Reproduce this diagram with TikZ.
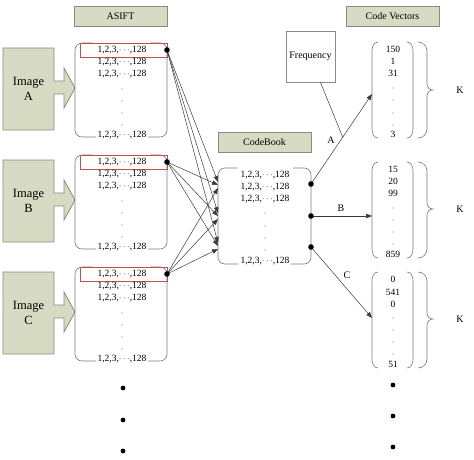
\documentclass[tikz,border=0pt]{standalone}
\usepackage{fontspec}
\setmainfont{Liberation Serif}
\usetikzlibrary{arrows.meta,calc}
\definecolor{boxfill}{HTML}{D8DBC3}
\definecolor{boxline}{HTML}{8A8B7E}
\definecolor{brk}{HTML}{7A7A7A}
\definecolor{redline}{HTML}{C0504D}
\definecolor{conncol}{HTML}{3A3A3A}
\begin{document}
\begin{tikzpicture}[x=1pt,y=-1pt,
  lbl/.style={draw=boxline, fill=boxfill, line width=0.8pt, minimum width=93pt, minimum height=20pt, inner sep=0pt, font=\fontsize{10}{12}\selectfont},
  imgshape/.style={draw=boxline, fill=boxfill, line width=0.8pt},
  imgtext/.style={align=center, inner sep=0pt, font=\fontsize{12.5}{15}\selectfont},
  rowtxt/.style={inner sep=0pt, font=\fontsize{9.5}{11}\selectfont},
  brack/.style={draw=brk, line width=0.6pt},
  conn/.style={draw=conncol, line width=0.5pt, -{Triangle[length=6pt,width=4.5pt]}},
  plain/.style={draw=conncol, line width=0.5pt},
  edgelbl/.style={inner sep=0pt, font=\fontsize{10}{12}\selectfont},
  tinydot/.style={fill=brk},
  redbox/.style={draw=redline, line width=0.9pt},
]
\useasboundingbox (0,0) rectangle (474,460);

% header labels
\node[lbl] (asift) at (120.5,16) {ASIFT};
\node[lbl] (codebook) at (264.5,142) {CodeBook};
\node[lbl] (codevec) at (392.5,16) {Code Vectors};

% image blocks and ASIFT columns
\foreach \L/\dy in {A/0,B/112,C/224}{
  \draw[imgshape] (3,48+\dy) -- (54,48+\dy) -- (54,81+\dy) -- (64,81+\dy) -- (64,68+\dy)
     -- (75,88+\dy) -- (64,108+\dy) -- (64,94+\dy) -- (54,94+\dy) -- (54,130+\dy) -- (3,130+\dy) -- cycle;
  \node[imgtext] (img\L) at (28.5,89+\dy) {Image\\\L};
  % brackets
  \draw[brack, rounded corners=7pt] (93,43+\dy) -- (75,43+\dy) -- (75,137+\dy) -- (96,137+\dy);
  \draw[brack, rounded corners=7pt] (150,43+\dy) -- (167,43+\dy) -- (167,137+\dy) -- (148,137+\dy);
  % rows
  \draw[redbox] (80,43+\dy) rectangle (167,57+\dy);
  \node[rowtxt] (r1\L) at (122,50+\dy) {1,2,3,$\cdots$,128};
  \node[rowtxt] (r2\L) at (122,62+\dy) {1,2,3,$\cdots$,128};
  \node[rowtxt] (r3\L) at (122,74+\dy) {1,2,3,$\cdots$,128};
  \foreach \yy in {89,101,113,125}{\fill[tinydot] (122,\yy+\dy) circle (0.55pt);}
  \node[rowtxt, fill=white, inner xsep=1pt] (r4\L) at (122,135+\dy) {1,2,3,$\cdots$,128};
  \coordinate (s\L) at (167,50+\dy);
}

% codebook container
\draw[brack, rounded corners=7pt] (237,168) -- (218,168) -- (218,264) -- (238,264);
\draw[brack, rounded corners=7pt] (293,168) -- (311,168) -- (311,264) -- (291,264);
\node[rowtxt] (cb1) at (265,175) {1,2,3,$\cdots$,128};
\node[rowtxt] (cb2) at (265,187) {1,2,3,$\cdots$,128};
\node[rowtxt] (cb3) at (265,199) {1,2,3,$\cdots$,128};
\foreach \yy in {213,226,238,250}{\fill[tinydot] (265,\yy) circle (0.55pt);}
\node[rowtxt, fill=white, inner xsep=1pt] (cb4) at (265,261) {1,2,3,$\cdots$,128};

% target points on codebook left side
\foreach \T/\ty in {1/185,2/216,3/246}{
  \foreach \S/\o in {A/-3,B/0,C/3}{
    \coordinate (t\T\S) at (218,\ty+\o);
  }
}
\foreach \S in {A,B,C}{
  \foreach \T in {1,2,3}{
    \draw[conn] (s\S) -- (t\T\S);
  }
}
\foreach \S in {A,B,C}{\fill (s\S) circle (2.8pt);}

% codebook output dots
\coordinate (oA) at (311,184);
\coordinate (oB) at (311,216);
\coordinate (oC) at (311,247);

% code vectors
\foreach \V/\top/\bot/\tip in {A/42/138/90, B/162/258/209, C/272/368/319}{
  \draw[brack] (378,\top) to[out=180,in=90] (372,\top+9) -- (372,\bot-9) to[out=-90,in=180] (378,\bot);
  \draw[brack] (407,\top) to[out=0,in=90] (413,\top+9) -- (413,\bot-9) to[out=-90,in=0] (407,\bot);
  \draw[brack] (418,\top) to[out=0,in=90] (427,\top+9) -- (427,\tip-6) to[out=-90,in=180] (433,\tip)
     to[out=180,in=90] (427,\tip+6) -- (427,\bot-9) to[out=-90,in=0] (418,\bot);
  \node[edgelbl] (k\V) at (460,\tip) {K};
}
\node[rowtxt] (vA1) at (393,49) {150};
\node[rowtxt] (vA2) at (393,61) {1};
\node[rowtxt] (vA3) at (393,73) {31};
\foreach \yy in {88,100,113,125}{\fill[tinydot] (393,\yy) circle (0.55pt);}
\node[rowtxt] (vA4) at (393,134) {3};

\node[rowtxt] (vB1) at (393,169) {15};
\node[rowtxt] (vB2) at (393,181) {20};
\node[rowtxt] (vB3) at (393,193) {99};
\foreach \yy in {208,220,232,244}{\fill[tinydot] (393,\yy) circle (0.55pt);}
\node[rowtxt] (vB4) at (393,254) {859};

\node[rowtxt] (vC1) at (393,279) {0};
\node[rowtxt] (vC2) at (393,292) {541};
\node[rowtxt] (vC3) at (393,304) {0};
\foreach \yy in {318,330,342,354}{\fill[tinydot] (393,\yy) circle (0.55pt);}
\node[rowtxt] (vC4) at (393,364) {51};

\coordinate (inA) at (372,94);
\coordinate (inB) at (372,216);
\coordinate (inC) at (372,318);

\draw[conn] (oA) -- (inA);
\draw[conn] (oB) -- (inB);
\draw[conn] (oC) -- (inC);
\foreach \o in {oA,oB,oC}{\fill (\o) circle (2.8pt);}

\node[edgelbl] (lblA) at (331,140) {A};
\node[edgelbl] (lblB) at (341,208) {B};
\node[edgelbl] (lblC) at (347,275) {C};

% frequency box
\node[draw=boxline, fill=white, line width=0.8pt, minimum width=49pt, minimum height=51pt, inner sep=0pt,
      font=\fontsize{10}{12}\selectfont] (freq) at (310.5,56.5) {Frequency};
\coordinate (fa) at ($(oA)!0.52!(inA)$);
\draw[plain] ($(freq.south west)!0.7!(freq.south east)$) -- (fa);

% continuation dots
\foreach \yy in {388,420,451}{
  \fill (123,\yy) circle (2.4pt);
}
\foreach \yy in {385,416,447}{
  \fill (393,\yy) circle (2.4pt);
}
\end{tikzpicture}
\end{document}
